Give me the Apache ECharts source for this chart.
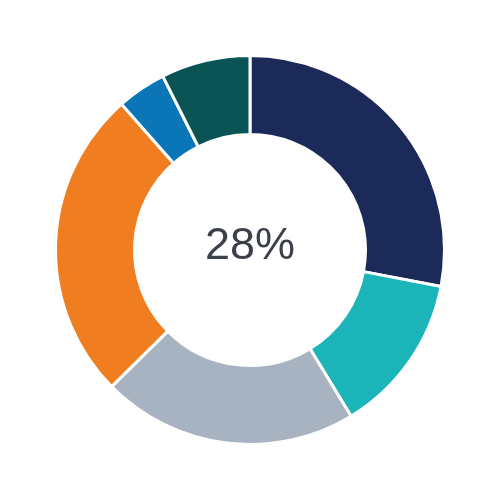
<!DOCTYPE html>
<html>
<head>
<meta charset="utf-8">
<script src="https://cdn.jsdelivr.net/npm/echarts@6/dist/echarts.min.js"></script>
<style>html,body{margin:0;padding:0;background:#fff}#c{width:500px;height:500px}</style>
</head>
<body>
<div id="c"></div>
<script>
const categories = ['A', 'B', 'C', 'D', 'E', 'F'];
const values = [28, 13.3, 21.3, 25.9, 4.1, 7.4];
const colors = ['#1c2a5a', '#1bb4b8', '#a8b3c2', '#f07e20', '#0a76b8', '#0b5456'];
const centerLabel = '28%';

const chart = echarts.init(document.getElementById('c'));
chart.setOption({
  animation: false,
  graphic: [{
    type: 'text',
    left: 'center',
    top: 224,
    style: { text: centerLabel, fontSize: 45, fontFamily: 'Liberation Sans, Arial, sans-serif', fill: '#3b404b' }
  }],
  series: [{
    type: 'pie',
    center: [250, 250],
    radius: [115.5, 194.5],
    startAngle: 90,
    clockwise: true,
    label: { show: false },
    labelLine: { show: false },
    itemStyle: { borderColor: '#fff', borderWidth: 3 },
    emphasis: { disabled: true },
    data: categories.map((c, i) => ({ name: c, value: values[i], itemStyle: { color: colors[i] } }))
  }]
});
</script>
</body>
</html>
